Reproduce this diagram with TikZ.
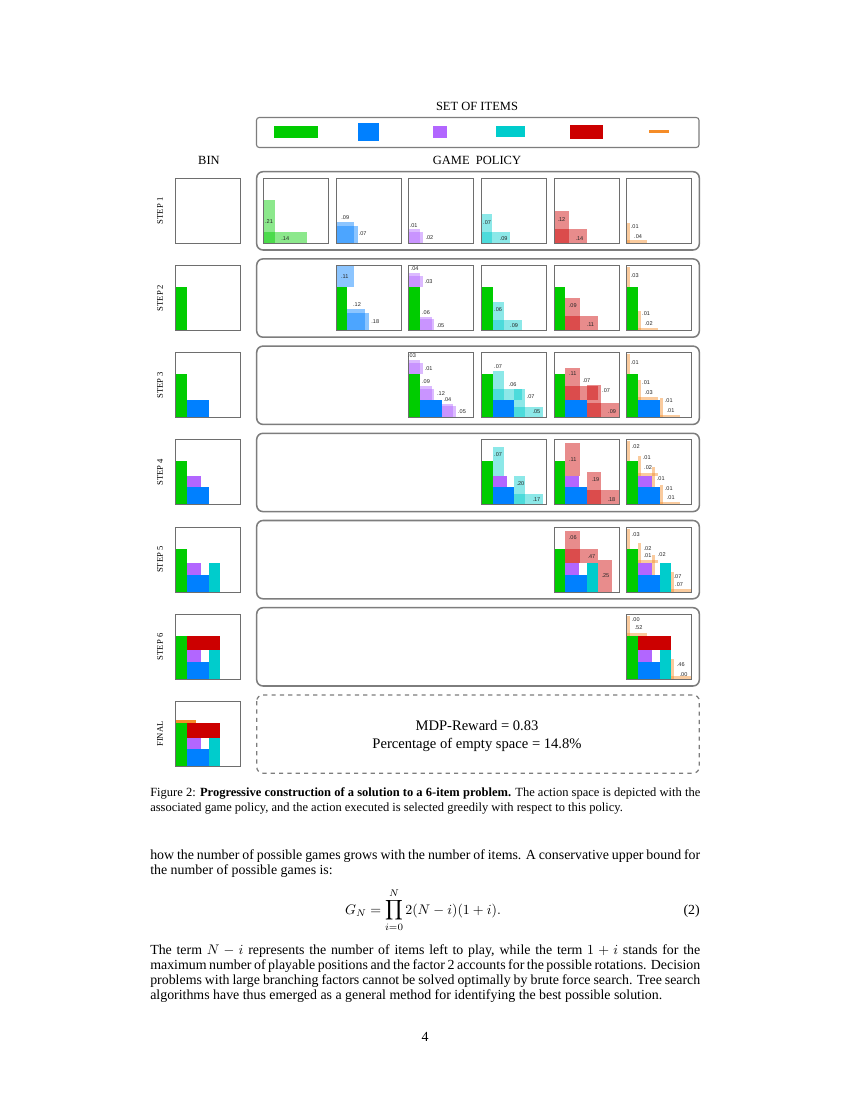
\documentclass[tikz,border=0pt]{standalone}
\usepackage{fontspec}
\setmainfont{Liberation Serif}
\newfontfamily\probfont{Liberation Sans}
\usetikzlibrary{positioning}

\definecolor{itgreen}{RGB}{0,204,0}
\definecolor{itblue}{RGB}{0,128,255}
\definecolor{itpurple}{RGB}{178,102,255}
\definecolor{itcyan}{RGB}{0,204,204}
\definecolor{itred}{RGB}{204,0,0}
\definecolor{itorange}{RGB}{245,140,40}
\definecolor{framegray}{RGB}{125,125,125}
\definecolor{cellgray}{RGB}{110,110,110}

% probability labels get names pl1, pl2, ...
\newcounter{pl}
\newcommand{\problabel}[2]{\stepcounter{pl}\node[probtext] (pl\arabic{pl}) at (#1) {#2};}
\newcommand{\cellframe}{\draw[cellbox] (0,0) rectangle (65,65);}

% bin contents after each step
\newcommand{\binone}{\fill[itgreen] (0,0) rectangle (11.3,43.5);}
\newcommand{\bintwo}{\binone\fill[itblue] (11.3,0) rectangle (32.8,17.5);}
\newcommand{\binthree}{\bintwo\fill[itpurple] (11.3,17.5) rectangle (25.3,29);}
\newcommand{\binfour}{\binthree\fill[itcyan] (32.8,0) rectangle (43.8,29);}
\newcommand{\binfive}{\binfour\fill[itred] (11.3,29) rectangle (43.8,43.5);}
\newcommand{\binsix}{\binfive\fill[itorange] (0,43.5) rectangle (20,46.5);}

\begin{document}
\begin{tikzpicture}[x=0.72pt, y=-0.72pt,
    cellbox/.style={draw=cellgray, line width=0.7pt},
    cand/.style={fill=#1, fill opacity=0.45},
    probtext/.style={font=\probfont\fontsize{4}{4.5}\selectfont, inner sep=0pt, text=black!85},
    policyframe/.style={draw=framegray, line width=1.1pt, rounded corners=4.5pt},
    headtext/.style={font=\fontsize{9}{11}\selectfont},
    steptext/.style={rotate=90, font=\fontsize{6.2}{7}\selectfont},
    cellat/.style 2 args={shift={(#1,#2)}, yscale=-1},
    bodytext/.style={font=\fontsize{10}{11}\selectfont, text width=396pt, align=justify, inner sep=0pt, anchor=base west}]

    \useasboundingbox (0,0) rectangle (850,1100);
    \fill[white] (0,0) rectangle (850,1100);

    % Set of items
    \node[headtext] (setlabel) at (477,106) {SET OF ITEMS};
    \draw[framegray, line width=0.8pt, rounded corners=2pt] (256.5,117.5) rectangle (699,147.5);
    \fill[itgreen] (274.2,126.4) rectangle ++(43.5,11.3);
    \fill[itblue] (357.5,123.2) rectangle ++(21.5,17.5);
    \fill[itpurple] (432.5,126.3) rectangle ++(14,11.5);
    \fill[itcyan] (496,126.5) rectangle ++(29,11);
    \fill[itred] (570.2,124.8) rectangle ++(32.5,14.5);
    \fill[itorange] (649,130.5) rectangle ++(20,3);

    % Headers
    \node[headtext] (binlabel) at (209,160) {BIN};
    \node[headtext] (policylabel) at (477,160) {GAME~~POLICY};

    % Step labels
    \node[steptext] (step1) at (160,210.8) {STEP 1};
    \node[steptext] (step2) at (160,298.0) {STEP 2};
    \node[steptext] (step3) at (160,385.2) {STEP 3};
    \node[steptext] (step4) at (160,472.4) {STEP 4};
    \node[steptext] (step5) at (160,559.6) {STEP 5};
    \node[steptext] (step6) at (160,646.8) {STEP 6};
    \node[steptext] (final) at (160,734.0) {FINAL};

    % Bins
    \begin{scope}[cellat={175.8}{243.3}] \cellframe \end{scope}
    \begin{scope}[cellat={175.8}{330.5}] \binone \cellframe \end{scope}
    \begin{scope}[cellat={175.8}{417.7}] \bintwo \cellframe \end{scope}
    \begin{scope}[cellat={175.8}{504.9}] \binthree \cellframe \end{scope}
    \begin{scope}[cellat={175.8}{592.1}] \binfour \cellframe \end{scope}
    \begin{scope}[cellat={175.8}{679.3}] \binfive \cellframe \end{scope}
    \begin{scope}[cellat={175.8}{766.5}] \binsix \cellframe \end{scope}

    % Policy frames
    \draw[policyframe] (256.7,171.7) rectangle (699.3,250.0);
    \draw[policyframe] (256.7,258.9) rectangle (699.3,337.2);
    \draw[policyframe] (256.7,346.1) rectangle (699.3,424.4);
    \draw[policyframe] (256.7,433.3) rectangle (699.3,511.6);
    \draw[policyframe] (256.7,520.5) rectangle (699.3,598.8);
    \draw[policyframe] (256.7,607.7) rectangle (699.3,686.0);
    \draw[policyframe, dashed, line width=0.9pt] (256.7,694.9) rectangle (699.3,773.2);

    % Step 1 policy
    \begin{scope}[cellat={263.3}{243.3}]
        \fill[cand=itgreen] (0,0) rectangle ++(11.3,43.5);
        \fill[cand=itgreen] (0,0) rectangle ++(43.5,11.3);
        \cellframe
        \problabel{5.7,21.6}{.21}
        \problabel{22,5}{.14}
    \end{scope}
    \begin{scope}[cellat={336.0}{243.3}]
        \fill[cand=itblue] (0,0) rectangle ++(17.5,21.5);
        \fill[cand=itblue] (0,0) rectangle ++(21.5,17.5);
        \cellframe
        \problabel{9.3,26}{.09}
        \problabel{26.7,9.3}{.07}
    \end{scope}
    \begin{scope}[cellat={408.7}{243.3}]
        \fill[cand=itpurple] (0,0) rectangle ++(11.5,14);
        \fill[cand=itpurple] (0,0) rectangle ++(14,11.5);
        \cellframe
        \problabel{5,17.7}{.01}
        \problabel{20.7,5.3}{.02}
    \end{scope}
    \begin{scope}[cellat={481.4}{243.3}]
        \fill[cand=itcyan] (0,0) rectangle ++(11,29);
        \fill[cand=itcyan] (0,0) rectangle ++(29,11);
        \cellframe
        \problabel{5.7,21}{.07}
        \problabel{22.3,5}{.09}
    \end{scope}
    \begin{scope}[cellat={554.1}{243.3}]
        \fill[cand=itred] (0,0) rectangle ++(14.5,32.5);
        \fill[cand=itred] (0,0) rectangle ++(32.5,14.5);
        \cellframe
        \problabel{7.3,24}{.12}
        \problabel{25.3,5}{.14}
    \end{scope}
    \begin{scope}[cellat={626.8}{243.3}]
        \fill[cand=itorange] (0,0) rectangle ++(3,20);
        \fill[cand=itorange] (0,0) rectangle ++(20,3);
        \cellframe
        \problabel{8,16.7}{.01}
        \problabel{11.3,6.7}{.04}
    \end{scope}

    % Step 2 policy
    \begin{scope}[cellat={336.0}{330.5}]
        \binone
        \fill[cand=itblue] (0,43.5) rectangle ++(17.5,21.5);
        \fill[cand=itblue] (11.3,0) rectangle ++(17.5,21.5);
        \fill[cand=itblue] (11.3,0) rectangle ++(21.5,17.5);
        \cellframe
        \problabel{8.7,54.3}{.11}
        \problabel{21,25.7}{.12}
        \problabel{39.3,9}{.18}
    \end{scope}
    \begin{scope}[cellat={408.7}{330.5}]
        \binone
        \fill[cand=itpurple] (0,43.5) rectangle ++(11.5,14);
        \fill[cand=itpurple] (0,43.5) rectangle ++(14,11.5);
        \fill[cand=itpurple] (11.3,0) rectangle ++(11.5,14);
        \fill[cand=itpurple] (11.3,0) rectangle ++(14,11.5);
        \cellframe
        \problabel{6,61.7}{.04}
        \problabel{20,49.3}{.03}
        \problabel{17.3,18.3}{.06}
        \problabel{31.7,5}{.05}
    \end{scope}
    \begin{scope}[cellat={481.4}{330.5}]
        \binone
        \fill[cand=itcyan] (11.3,0) rectangle ++(11,29);
        \fill[cand=itcyan] (11.3,0) rectangle ++(29,11);
        \cellframe
        \problabel{16.7,21.3}{.06}
        \problabel{32.7,5}{.09}
    \end{scope}
    \begin{scope}[cellat={554.1}{330.5}]
        \binone
        \fill[cand=itred] (11.3,0) rectangle ++(14.5,32.5);
        \fill[cand=itred] (11.3,0) rectangle ++(32.5,14.5);
        \cellframe
        \problabel{18.7,25}{.09}
        \problabel{36.3,5.7}{.11}
    \end{scope}
    \begin{scope}[cellat={626.8}{330.5}]
        \binone
        \fill[cand=itorange] (0,43.5) rectangle ++(3,20);
        \fill[cand=itorange] (11.3,0) rectangle ++(3,20);
        \fill[cand=itorange] (11.3,0) rectangle ++(20,3);
        \cellframe
        \problabel{8,55}{.03}
        \problabel{19.3,17.3}{.01}
        \problabel{22,7.3}{.02}
    \end{scope}

    % Step 3 policy
    \begin{scope}[cellat={408.7}{417.7}]
        \bintwo
        \fill[cand=itpurple] (0,43.5) rectangle ++(11.5,14);
        \fill[cand=itpurple] (0,43.5) rectangle ++(14,11.5);
        \fill[cand=itpurple] (11.3,17.5) rectangle ++(11.5,14);
        \fill[cand=itpurple] (11.3,17.5) rectangle ++(14,11.5);
        \fill[cand=itpurple] (32.8,0) rectangle ++(11.5,14);
        \fill[cand=itpurple] (32.8,0) rectangle ++(14,11.5);
        \cellframe
        \problabel{3.3,62.3}{.03}
        \problabel{20,49}{.01}
        \problabel{17.3,36}{.09}
        \problabel{32.3,23.7}{.12}
        \problabel{38.7,17.7}{.04}
        \problabel{53.3,5.7}{.05}
    \end{scope}
    \begin{scope}[cellat={481.4}{417.7}]
        \bintwo
        \fill[cand=itcyan] (11.3,17.5) rectangle ++(11,29);
        \fill[cand=itcyan] (11.3,17.5) rectangle ++(29,11);
        \fill[cand=itcyan] (32.8,0) rectangle ++(11,29);
        \fill[cand=itcyan] (32.8,0) rectangle ++(29,11);
        \cellframe
        \problabel{16.7,51.3}{.07}
        \problabel{31.3,33}{.06}
        \problabel{49.3,20.7}{.07}
        \problabel{55,5.7}{.05}
    \end{scope}
    \begin{scope}[cellat={554.1}{417.7}]
        \bintwo
        \fill[cand=itred] (11.3,17.5) rectangle ++(14.5,32.5);
        \fill[cand=itred] (11.3,17.5) rectangle ++(32.5,14.5);
        \fill[cand=itred] (32.8,0) rectangle ++(14.5,32.5);
        \fill[cand=itred] (32.8,0) rectangle ++(32.2,14.5);
        \cellframe
        \problabel{18.7,43.7}{.11}
        \problabel{32.3,37.3}{.07}
        \problabel{52,27.3}{.07}
        \problabel{58,6}{.09}
    \end{scope}
    \begin{scope}[cellat={626.8}{417.7}]
        \bintwo
        \fill[cand=itorange] (0,43.5) rectangle ++(3,20);
        \fill[cand=itorange] (11.3,17.5) rectangle ++(3,20);
        \fill[cand=itorange] (11.3,17.5) rectangle ++(20,3);
        \fill[cand=itorange] (32.8,0) rectangle ++(3,20);
        \fill[cand=itorange] (32.8,0) rectangle ++(20,3);
        \cellframe
        \problabel{8,54.7}{.01}
        \problabel{19.3,35.3}{.01}
        \problabel{22,25.3}{.03}
        \problabel{42,17}{.01}
        \problabel{43.7,7.3}{.01}
    \end{scope}

    % Step 4 policy
    \begin{scope}[cellat={481.4}{504.9}]
        \binthree
        \fill[cand=itcyan] (11.3,29) rectangle ++(11,29);
        \fill[cand=itcyan] (32.8,0) rectangle ++(11,29);
        \fill[cand=itcyan] (32.8,0) rectangle ++(29,11);
        \cellframe
        \problabel{16.7,50.7}{.07}
        \problabel{39,21.3}{.20}
        \problabel{55,5.7}{.17}
    \end{scope}
    \begin{scope}[cellat={554.1}{504.9}]
        \binthree
        \fill[cand=itred] (11.3,29) rectangle ++(14.5,32.5);
        \fill[cand=itred] (32.8,0) rectangle ++(14.5,32.5);
        \fill[cand=itred] (32.8,0) rectangle ++(32.2,14.5);
        \cellframe
        \problabel{18.7,45}{.11}
        \problabel{41.3,25.7}{.19}
        \problabel{57.3,5.7}{.18}
    \end{scope}
    \begin{scope}[cellat={626.8}{504.9}]
        \binthree
        \fill[cand=itorange] (0,43.5) rectangle ++(3,20);
        \fill[cand=itorange] (11.3,29) rectangle ++(3,20);
        \fill[cand=itorange] (11.3,29) rectangle ++(20,3);
        \fill[cand=itorange] (25.3,17.5) rectangle ++(3,20);
        \fill[cand=itorange] (32.8,0) rectangle ++(3,20);
        \fill[cand=itorange] (32.8,0) rectangle ++(20,3);
        \cellframe
        \problabel{9,58}{.02}
        \problabel{20,47.7}{.01}
        \problabel{21.3,37.3}{.02}
        \problabel{34,26}{.01}
        \problabel{42,16}{.01}
        \problabel{44,7.7}{.01}
    \end{scope}

    % Step 5 policy
    \begin{scope}[cellat={554.1}{592.1}]
        \binfour
        \fill[cand=itred] (11.3,29) rectangle ++(14.5,32.5);
        \fill[cand=itred] (11.3,29) rectangle ++(32.5,14.5);
        \fill[cand=itred] (43.8,0) rectangle ++(14.5,32.5);
        \cellframe
        \problabel{18.7,54.7}{.06}
        \problabel{37.3,35.7}{.47}
        \problabel{51.3,16.3}{.25}
    \end{scope}
    \begin{scope}[cellat={626.8}{592.1}]
        \binfour
        \fill[cand=itorange] (0,43.5) rectangle ++(3,20);
        \fill[cand=itorange] (11.3,29) rectangle ++(3,20);
        \fill[cand=itorange] (11.3,29) rectangle ++(20,3);
        \fill[cand=itorange] (25.3,17.5) rectangle ++(3,20);
        \fill[cand=itorange] (43.8,0) rectangle ++(3,20);
        \fill[cand=itorange] (43.8,0) rectangle ++(20,3);
        \cellframe
        \problabel{9,58}{.03}
        \problabel{20.7,43.7}{.02}
        \problabel{20.7,36.7}{.01}
        \problabel{35,38}{.02}
        \problabel{50.7,16}{.07}
        \problabel{52.3,7.7}{.07}
    \end{scope}

    % Step 6 policy
    \begin{scope}[cellat={626.8}{679.3}]
        \binfive
        \fill[cand=itorange] (0,43.5) rectangle ++(3,20);
        \fill[cand=itorange] (0,43.5) rectangle ++(20,3);
        \fill[cand=itorange] (43.8,0) rectangle ++(3,20);
        \fill[cand=itorange] (43.8,0) rectangle ++(20,3);
        \cellframe
        \problabel{9,60}{.00}
        \problabel{11.7,51.7}{.52}
        \problabel{54,15}{.46}
        \problabel{56.7,5}{.00}
    \end{scope}

    % Result
    \node[font=\fontsize{10.5}{13}\selectfont, align=center] (reward) at (477,736)
        {MDP-Reward = 0.83\\Percentage of empty space = 14.8\%};

    % Caption and text
    \node[bodytext, font=\fontsize{9}{11.5}\selectfont] (caption) at (150,796) {Figure 2: \textbf{Progressive construction of a solution to a 6-item problem.} The action space is depicted with the\linebreak associated game policy, and the action executed is selected greedily with respect to this policy.};
    \node[bodytext] (para1) at (150,859) {how the number of possible games grows with the number of items. A conservative upper bound for\linebreak the number of possible games is:};
    \node[font=\fontsize{10}{11}\selectfont, anchor=base] (eq) at (423,914) {$G_N = \displaystyle\prod_{i=0}^{N} 2(N-i)(1+i).$};
    \node[font=\fontsize{10}{11}\selectfont, anchor=base east, inner sep=0pt] (eqnum) at (700,914) {(2)};
    \node[bodytext] (para2) at (150,954) {The term $N-i$ represents the number of items left to play, while the term $1+i$ stands for the\linebreak maximum number of playable positions and the factor 2 accounts for the possible rotations. Decision\linebreak problems with large branching factors cannot be solved optimally by brute force search. Tree search\linebreak algorithms have thus emerged as a general method for identifying the best possible solution.};
    \node[font=\fontsize{10}{11}\selectfont] (pagenum) at (425,1037) {4};
\end{tikzpicture}
\end{document}
